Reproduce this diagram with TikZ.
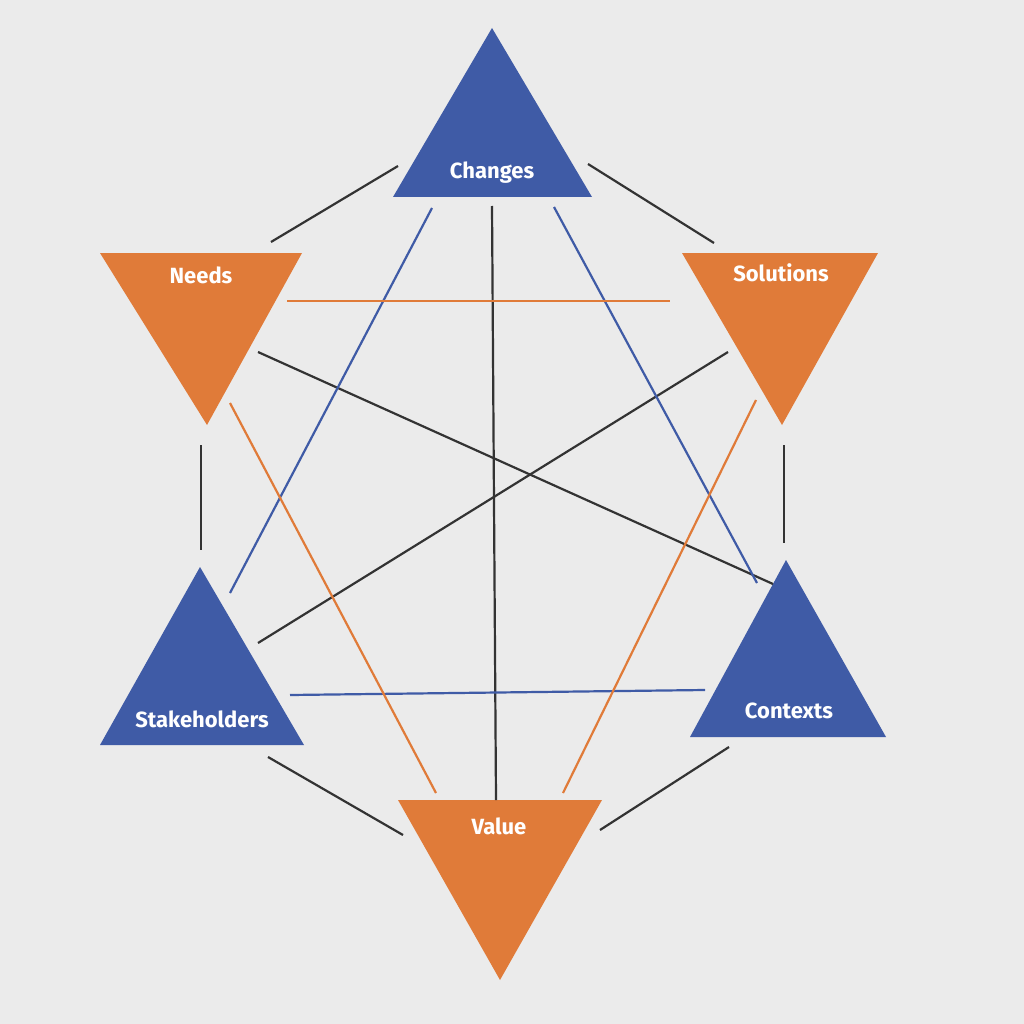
\documentclass[tikz,border=0pt]{standalone}
\usepackage{fontspec}
\setmainfont{Fira Sans}
\begin{document}
\begin{tikzpicture}[x=1pt,y=-1pt,
  blk/.style={line width=2.2pt,draw=black!80},
  blu/.style={line width=2.2pt,draw=tblue},
  org/.style={line width=2.2pt,draw=torange},
  lab/.style={text=white,font=\fontsize{22}{26}\selectfont\bfseries}]
\definecolor{tblue}{HTML}{3F5BA6}
\definecolor{torange}{HTML}{E07B39}
\fill[black!8] (0,0) rectangle (1024,1024);
\useasboundingbox (0,0) rectangle (1024,1024);
% triangles
\fill[tblue] (492,28) -- (592,197) -- (393,197) -- cycle;
\fill[torange] (100,253) -- (302,253) -- (207,425) -- cycle;
\fill[torange] (682,253) -- (878,253) -- (782,425) -- cycle;
\fill[tblue] (200,567) -- (304,745) -- (100,745) -- cycle;
\fill[tblue] (786,560) -- (886,737) -- (690,737) -- cycle;
\fill[torange] (398,800) -- (602,800) -- (500,980) -- cycle;
\node[lab] (changes) at (492,173) {Changes};
\node[lab] (needs) at (201,275) {Needs};
\node[lab] (solutions) at (781,273) {Solutions};
\node[lab] (stake) at (202,719) {Stakeholders};
\node[lab] (contexts) at (789,711) {Contexts};
\node[lab] (value) at (499,826) {Value};
% endpoints
\foreach \n/\x/\y in {a1/271/242,a2/398/166,b1/588/164,b2/714/243,c1/492/206,c2/496/800,
 d1/258/352,d2/773/584,e1/728/352,e2/258/643,f1/201/445,f2/201/550,g1/784/445,g2/784/543,
 h1/268/757,h2/403/835,i1/600/830,i2/729/747,j1/432/208,j2/230/593,k1/554/207,k2/757/583,
 l1/290/695,l2/705/690,m1/287/301,m2/670/301,n1/230/403,n2/436/793,o1/756/400,o2/563/793}
 \coordinate (\n) at (\x,\y);
\foreach \p in {a,b,c,d,e,f,g,h,i} \draw[blk] (\p1) -- (\p2);
\foreach \p in {j,k,l} \draw[blu] (\p1) -- (\p2);
\foreach \p in {m,n,o} \draw[org] (\p1) -- (\p2);
\end{tikzpicture}
\end{document}
